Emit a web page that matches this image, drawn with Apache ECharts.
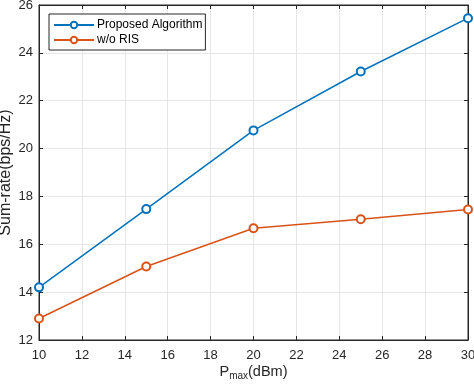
<!DOCTYPE html>
<html><head><meta charset="utf-8">
<script src="https://cdn.jsdelivr.net/npm/echarts@6/dist/echarts.min.js"></script>
<style>html,body{margin:0;padding:0;background:#fff}#c{width:474px;height:386px}</style>
</head><body><div id="c"></div>
<script>
var pmax = [10, 15, 20, 25, 30];
var proposed = [14.2, 17.47, 20.76, 23.22, 25.45];
var woRIS = [12.9, 15.07, 16.67, 17.05, 17.45];
var seriesNames = ['Proposed Algorithm', 'w/o RIS'];
var colors = ['#0072BD', '#D95319'];
var yName = 'Sum-rate(bps/Hz)';

var chart = echarts.init(document.getElementById('c'));
var axisCol = '#262626';
function pairs(v){ return pmax.map(function(x,i){return [x, v[i]];}); }
var font = 'Liberation Sans, Arial, sans-serif';
function mk(i, vals){
  return {name: seriesNames[i], type: 'line', data: pairs(vals),
    symbol: 'emptyCircle', symbolSize: 8,
    lineStyle: {width: 1.5, color: colors[i]},
    itemStyle: {color: colors[i], borderColor: colors[i], borderWidth: 1.5}};
}
chart.setOption({
  animation: false,
  grid: {left: 39, right: 6, top: 5, bottom: 46, outerBoundsMode: 'none', containLabel: false,
         show: true, borderColor: axisCol, borderWidth: 1},
  legend: {
    left: 49, top: 14, orient: 'vertical', itemGap: 3,
    backgroundColor: '#fff', borderColor: axisCol, borderWidth: 1, padding: [5, 3, 4, 4],
    itemWidth: 40, itemHeight: 8,
    textStyle: {fontFamily: font, fontSize: 12, color: '#000', padding: [0,0,0,-2]},
    data: seriesNames
  },
  xAxis: [{
    type: 'value', min: 10, max: 30, interval: 2,
    name: '{a|P}{b|max}{a|(dBm)}', nameLocation: 'middle', nameGap: 22, nameMoveOverlap: false,
    nameTextStyle: {rich: {a: {fontFamily: font, fontSize: 14.5, color: axisCol}, b: {fontFamily: font, fontSize: 10, color: axisCol, verticalAlign: 'bottom', padding: [9,0,0,0]}}},
    axisLine: {lineStyle: {color: axisCol}},
    axisTick: {inside: true, length: 4, lineStyle: {color: axisCol}},
    axisLabel: {fontFamily: font, fontSize: 13, color: axisCol, margin: 9},
    splitLine: {show: true, lineStyle: {color: '#e6e6e6'}}
  }, {
    type: 'value', min: 10, max: 30, interval: 2, position: 'top',
    axisLine: {lineStyle: {color: axisCol}},
    axisTick: {inside: true, length: 4, lineStyle: {color: axisCol}},
    axisLabel: {show: false}, splitLine: {show: false}
  }],
  yAxis: [{
    type: 'value', min: 12, max: 26, interval: 2,
    name: yName, nameLocation: 'middle', nameGap: 25, nameMoveOverlap: false,
    nameTextStyle: {fontFamily: font, fontSize: 16, color: axisCol},
    axisLine: {lineStyle: {color: axisCol}},
    axisTick: {inside: true, length: 4, lineStyle: {color: axisCol}},
    axisLabel: {fontFamily: font, fontSize: 13, color: axisCol, margin: 6},
    splitLine: {show: true, lineStyle: {color: '#e6e6e6'}}
  }, {
    type: 'value', min: 12, max: 26, interval: 2, position: 'right',
    axisLine: {show: true, lineStyle: {color: axisCol}},
    axisTick: {show: true, inside: true, length: 4, lineStyle: {color: axisCol}},
    axisLabel: {show: false}, splitLine: {show: false}
  }],
  series: [mk(0, proposed), mk(1, woRIS)]
});
</script></body></html>
